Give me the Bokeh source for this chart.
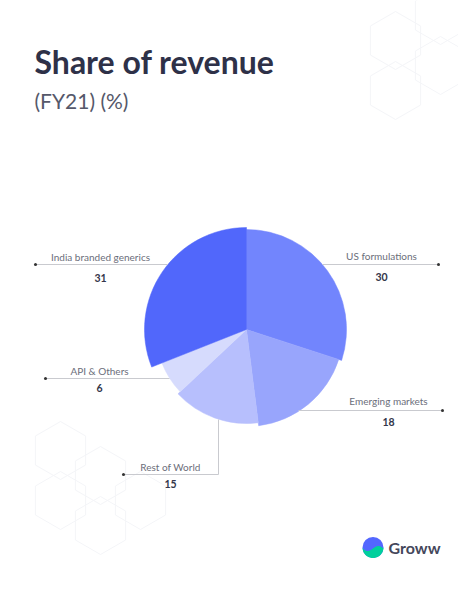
import numpy as np
from bokeh.plotting import figure
from bokeh.models import Range1d, ColumnDataSource
from bokeh.core.properties import value
from bokeh.embed import file_html
from bokeh.resources import INLINE

# ---- data (clockwise from 12 o'clock) ----
categories = ["US formulations", "Emerging markets", "Rest of World", "API & Others", "India branded generics"]
shares = [30, 18, 15, 6, 31]
value_labels = ["30", "18", "15", "6", "31"]

# ---- styles ----
colors = ["#7285FD", "#98A5FC", "#B7BFFD", "#D6DBFD", "#5167FB"]
radii = [100, 97, 94, 91, 102]

W, H = 458, 576
p = figure(width=W, height=H, output_backend="svg", toolbar_location=None,
           x_range=Range1d(0, 458), y_range=Range1d(16, 592), min_border=0)
p.axis.visible = False
p.grid.visible = False
p.outline_line_color = None
p.background_fill_color = "white"
p.border_fill_color = "white"

def Y(py):
    return 592 - py

# faint hexagon decoration
hex_centers = [(395, 40), (440, 65), (395, 90), (440, 15), (60, 450), (100, 475), (60, 500), (140, 500), (100, 525)]
for hx, hy in hex_centers:
    a = np.linspace(0, 2 * np.pi, 7) + np.pi / 6
    p.line(hx + 29 * np.cos(a), Y(hy) + 29 * np.sin(a), line_color="#F4F5F8", line_width=1)

# ---- pie ----
cx, cy = 246, Y(329)
frac = np.array(shares, dtype=float) / sum(shares)
cum = np.concatenate([[0], np.cumsum(frac)])
start = np.pi / 2 - 2 * np.pi * cum[:-1]
end = np.pi / 2 - 2 * np.pi * cum[1:]
src = ColumnDataSource(dict(x=[cx] * len(shares), y=[cy] * len(shares), r=radii,
                            s=start, e=end, c=colors, name=categories))
p.wedge(x="x", y="y", radius="r", start_angle="s", end_angle="e", direction="clock",
        fill_color="c", line_color="c", line_width=0.5, source=src)

# ---- callouts ----
callouts = {
    "US formulations": dict(tx=381, ly=255, vy=276, lx=[322, 438], lyy=[264, 264], dot=(438, 264)),
    "Emerging markets": dict(tx=388, ly=400, vy=421, lx=[298, 442], lyy=[410, 410], dot=(442, 410)),
    "Rest of World": dict(tx=170, ly=466, vy=483, lx=[123, 218, 218], lyy=[474, 474, 419], dot=(123, 474)),
    "API & Others": dict(tx=99, ly=370, vy=387, lx=[45, 169], lyy=[378, 378], dot=(45, 378)),
    "India branded generics": dict(tx=100, ly=256, vy=277, lx=[35, 167], lyy=[264, 264], dot=(35, 264)),
}
for name, val in zip(categories, value_labels):
    c = callouts[name]
    p.line(c["lx"], [Y(v) for v in c["lyy"]], line_color="#C9CACF", line_width=1)
    p.scatter([c["dot"][0]], [Y(c["dot"][1])], size=3, fill_color="#333333", line_color=None)
    p.text([c["tx"]], [Y(c["ly"])], text=[name], text_align="center", text_baseline="middle",
           text_font=value("Lato"), text_font_size="10px", text_color="#6B6E7A")
    p.text([c["tx"]], [Y(c["vy"])], text=[val], text_align="center", text_baseline="middle",
           text_font=value("Lato"), text_font_size="10.5px", text_font_style="bold", text_color="#33364A")

# ---- titles ----
p.text([34], [Y(61)], text=["Share of revenue"], text_align="left", text_baseline="middle",
       text_font=value("Lato"), text_font_size="32px", text_font_style="bold", text_color="#2E3148")
p.text([34], [Y(100)], text=["(FY21) (%)"], text_align="left", text_baseline="middle",
       text_font=value("Lato"), text_font_size="21px", text_color="#55586A")

# ---- Groww logo ----
lx0, ly0, lr = 372.5, Y(547), 10.5
p.circle([lx0], [ly0], radius=lr, fill_color="#5367FF", line_color=None)
t = np.linspace(0, 1, 40)
ang = np.pi + t * np.pi
wx = np.linspace(lx0 - lr, lx0 + lr, 30)
wy = ly0 - 1 + 2.5 * np.sin((wx - lx0) / lr * np.pi)
lower_x = lx0 + lr * np.cos(ang[::-1])
lower_y = ly0 + lr * np.sin(ang[::-1])
px_ = np.concatenate([wx, lower_x])
py_ = np.concatenate([wy, lower_y])
mask = (px_ - lx0) ** 2 + (py_ - ly0) ** 2 <= lr ** 2 + 0.5
p.patch(px_[mask], py_[mask], fill_color="#00D09C", line_color=None)
p.text([388], [Y(547)], text=["Groww"], text_align="left", text_baseline="middle",
       text_font=value("Lato"), text_font_size="16px", text_font_style="bold", text_color="#44475B")

open("out.html", "w").write(file_html(p, INLINE))
